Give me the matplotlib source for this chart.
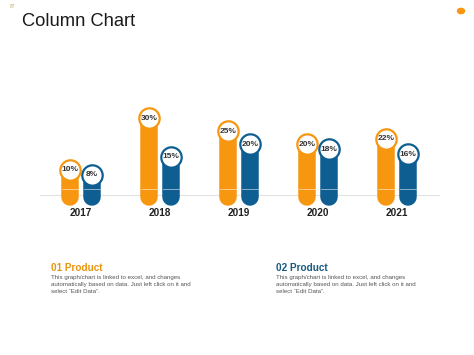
import matplotlib
matplotlib.use("Agg")
import matplotlib.pyplot as plt
import numpy as np

years = ["2017", "2018", "2019", "2020", "2021"]
product1 = [10, 30, 25, 20, 22]
product2 = [8, 15, 20, 18, 16]
labels1 = ["10%", "30%", "25%", "20%", "22%"]
labels2 = ["8%", "15%", "20%", "18%", "16%"]

ORANGE = "#F7960F"
BLUE = "#0E5E91"

plt.rcParams["font.family"] = ["Liberation Sans", "DejaVu Sans"]

W, H = 474, 355
fig = plt.figure(figsize=(W / 100, H / 100), dpi=100)
fig.patch.set_facecolor("white")

# chart axes: px x 40..440, y 100..215 (top-down)
ax = fig.add_axes([40 / W, 1 - 215 / H, 400 / W, 115 / H])
ppu = 2.55  # pixels per percent
ax.set_ylim(-20 / ppu, 95 / ppu)
spacing = 79.0
ax.set_xlim((40 - 81) / spacing, (440 - 81) / spacing)
ax.axis("off")

x = np.arange(len(years))
off = 11 / spacing
bar_lw = 17.5 * 0.72

ax.axhline(0, color="#e3e3e3", lw=0.8, zorder=1)

for xs, vals, labs, col in [(x - off, product1, labels1, ORANGE), (x + off, product2, labels2, BLUE)]:
    for xi, v, lab in zip(xs, vals, labs):
        ax.plot([xi, xi], [-0.6, v], color=col, lw=bar_lw, solid_capstyle="round", zorder=2)
        ax.plot([xi - 8 / spacing, xi + 8 / spacing], [2.5, 2.5], color="white", lw=0.6, alpha=0.6, zorder=3)
    ax.scatter(xs, vals, s=215, facecolor="white", edgecolor=col, linewidth=1.6, zorder=4)
    for xi, v, lab in zip(xs, vals, labs):
        ax.text(xi, v, lab, ha="center", va="center", fontsize=6.0, fontweight="bold",
                color="#333333", zorder=5)

for xi, yr in zip(x, years):
    ax.text(xi, -18 / ppu, yr, ha="center", va="center", fontsize=7.2, fontweight="bold", color="#222222")

# title and decorations
fig.text(22 / W, 1 - 22 / H, "Column Chart", ha="left", va="center", fontsize=13.2,
         color="#1a1a1a")
fig.text(12 / W, 1 - 7 / H, "87", ha="center", va="center", fontsize=3.5, color="#b5a85a")
fig.patches.append(matplotlib.patches.Circle((461 / W, 1 - 11 / H), 3.5 / W,
                                             transform=fig.transFigure, color=ORANGE,
                                             figure=fig))

desc = "This graph/chart is linked to excel, and changes\nautomatically based on data. Just left click on it and\nselect \u201cEdit Data\u201d."
for px, title, col in [(51, "01 Product", "#E8950E"), (276, "02 Product", "#17597F")]:
    fig.text(px / W, 1 - 268 / H, title, ha="left", va="center", fontsize=7.2, fontweight="bold", color=col)
    fig.text(px / W, 1 - 275.5 / H, desc, ha="left", va="top", fontsize=4.4, color="#555555",
             linespacing=1.4)

fig.savefig("out.png", dpi=100, facecolor="white")
